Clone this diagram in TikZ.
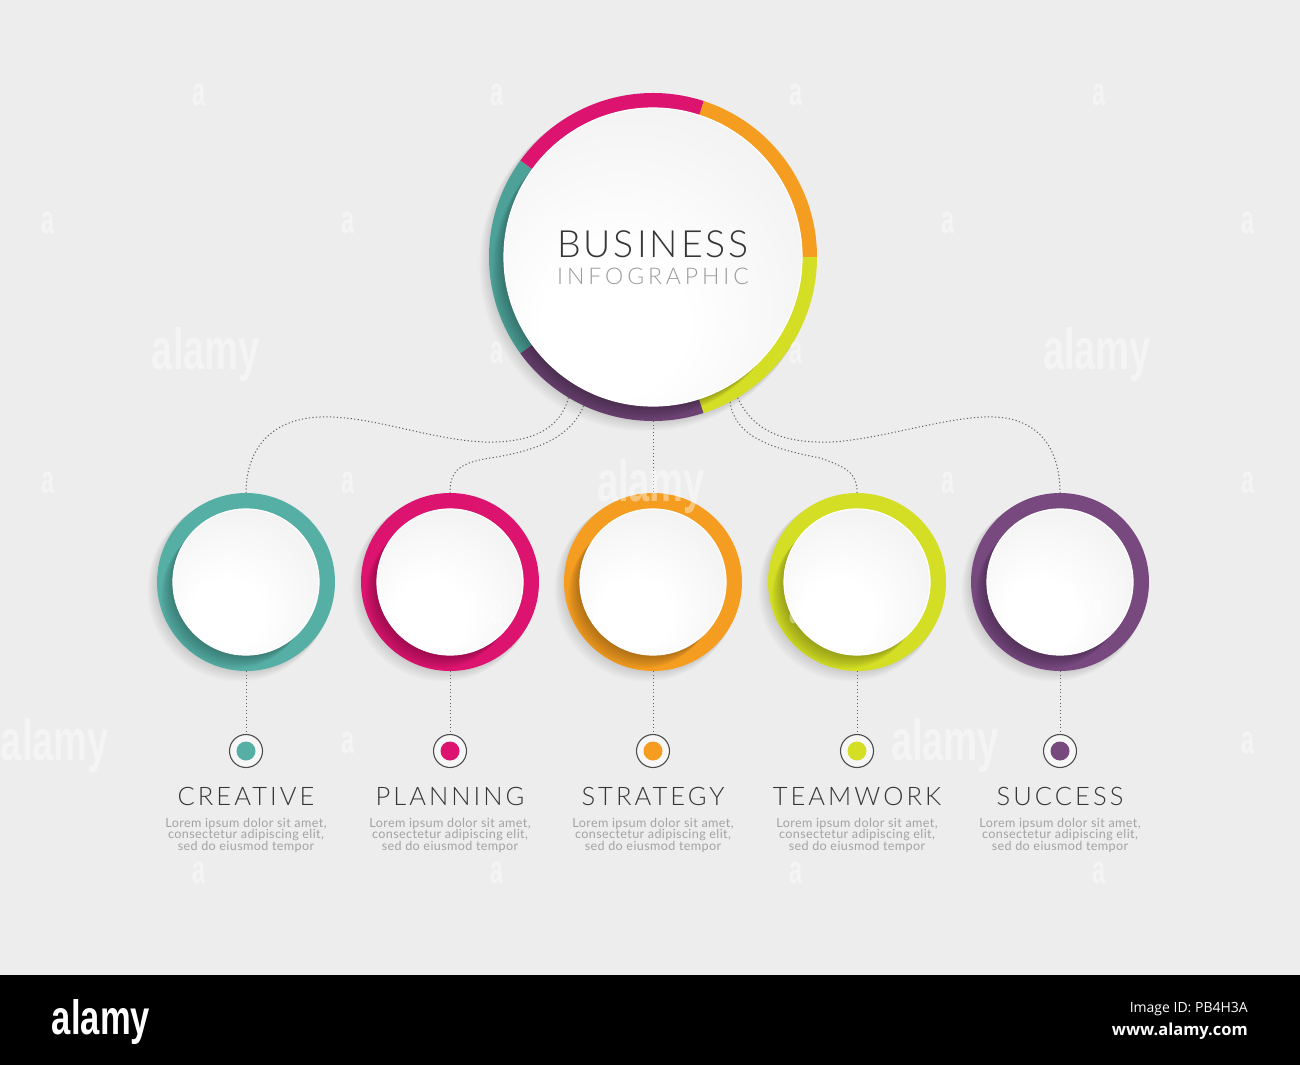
\documentclass[tikz,border=0pt]{standalone}
\usepackage{fontspec}
\usetikzlibrary{calc}
\IfFontExistsTF{Lato Light}{%
  \newfontfamily\thinfont{Lato}[LetterSpace=3]%
  \newfontfamily\lblfont{Lato Light}[LetterSpace=12]%
  \newfontfamily\titlefont{Lato Light}[LetterSpace=8]%
  \newfontfamily\subfont{Lato Light}[LetterSpace=17]%
}{%
  \newfontfamily\thinfont{Lato}[LetterSpace=3]%
  \newfontfamily\lblfont{Lato}[LetterSpace=12]%
  \newfontfamily\titlefont{Lato}[LetterSpace=8]%
  \newfontfamily\subfont{Lato}[LetterSpace=17]%
}
\newfontfamily\wmfont{Liberation Sans}
\newfontfamily\idfont{Open Sans}
\definecolor{bg}{HTML}{EDEDED}
\definecolor{cteal}{HTML}{55AFA5}
\definecolor{cpink}{HTML}{DC1470}
\definecolor{corange}{HTML}{F49D20}
\definecolor{clime}{HTML}{D3DE25}
\definecolor{cpurple}{HTML}{77497F}
\definecolor{lbl}{HTML}{363636}
\definecolor{lorem}{HTML}{A3A3A3}
\definecolor{info}{HTML}{9C9C9C}
\pgfdeclareradialshading{disk}{\pgfpoint{-8bp}{-14bp}}{color(0bp)=(white); color(12bp)=(white); color(38bp)=(black!6); color(62bp)=(black!13)}
\newcommand\softshadow[2]{%
  \foreach \k in {1,...,8}{\fill[black,opacity=0.016] ($(#1)+(-0.9*\k,-1.0*\k)$) circle[radius=#2+0.3*\k];}}
\newcommand\innerdisk[3]{%
  \begin{scope}
    \clip (#1) circle[radius=#2];
    \foreach \k in {1,...,9}{\fill[black,opacity=0.03] ($(#1)+(-1.3*\k,-1.5*\k)$) circle[radius=#3];}
  \end{scope}
  \shade[shading=disk] (#1) circle[radius=#3];
  \draw[white, line width=1.2pt] (#1) circle[radius=#3];}
\begin{document}
\begin{tikzpicture}[x=1pt,y=1pt,
  dots/.style={draw=black!62, line width=1pt, dash pattern=on 1.2pt off 2.3pt},
  lblstyle/.style={font=\lblfont\fontsize{25.5}{28}\selectfont, text=lbl, inner sep=0pt},
  loremstyle/.style={font=\thinfont\fontsize{12.6}{13}\selectfont, text=lorem, inner sep=0pt},
  wm/.style={text=white, opacity=0.4, inner sep=0pt, font=\wmfont\bfseries},
  marker/.style={circle, draw=black!70, line width=1.1pt, fill=white!55!bg, minimum size=33pt, inner sep=0pt}]
\fill[bg] (0,0) rectangle (1300,-975);
\fill[black] (0,-975) rectangle (1300,-1065);
\useasboundingbox (0,0) rectangle (1300,-1065);

% main circle
\coordinate (M) at (653,-257);
\softshadow{M}{164}
\fill[corange] (M) -- ++(0:164) arc[start angle=0,end angle=72,radius=164] -- cycle;
\fill[cpink] (M) -- ++(72:164) arc[start angle=72,end angle=144,radius=164] -- cycle;
\fill[cteal!92!black] (M) -- ++(144:164) arc[start angle=144,end angle=216,radius=164] -- cycle;
\fill[cpurple!90!black] (M) -- ++(216:164) arc[start angle=216,end angle=288,radius=164] -- cycle;
\fill[clime] (M) -- ++(288:164) arc[start angle=288,end angle=360,radius=164] -- cycle;
\innerdisk{M}{164}{149}
\node[circle, minimum size=328pt, inner sep=0pt] (main) at (M) {};
\node[font=\titlefont\fontsize{37.5}{40}\selectfont, text=lbl, anchor=base, inner sep=0pt] (title) at (653,-257) {BUSINESS};
\node[font=\subfont\fontsize{23}{26}\selectfont, text=info, anchor=base, inner sep=0pt] (subtitle) at (653,-284) {INFOGRAPHIC};

% small circles
\foreach \i/\x/\c/\name in {1/246/cteal/CREATIVE, 2/450/cpink/PLANNING, 3/653/corange/STRATEGY, 4/857/clime/TEAMWORK, 5/1060/cpurple/SUCCESS}{
  \coordinate (P\i) at (\x,-582);
  \softshadow{P\i}{89}
  \fill[\c] (P\i) circle[radius=89];
  \innerdisk{P\i}{89}{73}
  \node[circle, minimum size=178pt, inner sep=0pt] (c\i) at (P\i) {};
  \node[marker] (m\i) at (\x,-751) {};
  \fill[\c] (m\i.center) circle[radius=9.5];
  \draw[dots] (c\i.south) -- (m\i.north);
  \node[lblstyle, anchor=base] (l\i) at (\x,-805) {\name};
  \node[loremstyle, anchor=base] (la\i) at (\x,-827) {Lorem ipsum dolor sit amet,};
  \node[loremstyle, anchor=base] (lb\i) at (\x,-838.8) {consectetur adipiscing elit,};
  \node[loremstyle, anchor=base] (lc\i) at (\x,-850.6) {sed do eiusmod tempor};
}

% connectors
\draw[dots] (main.-121) .. controls (560,-430) and (530,-443) .. (485,-442)
  .. controls (430,-440) and (370,-415) .. (320,-417)
  .. controls (270,-419) and (246,-450) .. (c1.north);
\draw[dots] (main.-115.6) .. controls (570,-440) and (530,-452) .. (490,-458)
  .. controls (460,-463) and (450,-470) .. (c2.north);
\draw[dots] (main.south) -- (c3.north);
\draw[dots] (main.-62.8) .. controls (735,-440) and (780,-450) .. (820,-458)
  .. controls (850,-468) and (857,-475) .. (c4.north);
\draw[dots] (main.-59) .. controls (755,-435) and (790,-443) .. (830,-442)
  .. controls (880,-440) and (950,-415) .. (995,-417)
  .. controls (1040,-419) and (1060,-450) .. (c5.north);

% watermarks
\foreach \x/\y in {199/95,497/95,796/95,1099/95,48/223,348/223,948/223,1248/223,497/353,796/353,48/483,348/483,948/483,1248/483,497/613,1098/613,199/613,796/613,348/743,1248/743,199/873,497/873,796/873,1099/873}{
  \node[wm] at (\x,-\y) {\resizebox*{13pt}{22pt}{a}};
}
\foreach \x/\y in {206/355,1097/355,651/487,945/746,55/746}{
  \node[wm] at (\x,-\y) {\resizebox*{108pt}{54pt}{alamy}};
}

% bottom bar
\node[text=white, inner sep=0pt, font=\wmfont\bfseries] (logo) at (101,-1022.5) {\resizebox*{98pt}{45pt}{alamy}};
\node[text=white, inner sep=0pt, anchor=base east, font=\idfont\fontsize{14}{16}\selectfont] (imgid) at (1248,-1012) {Image ID: PB4H3A};
\node[text=white, inner sep=0pt, anchor=base east, font=\idfont\bfseries\fontsize{16.5}{18}\selectfont] (www) at (1248,-1035) {www.alamy.com};
\end{tikzpicture}
\end{document}
